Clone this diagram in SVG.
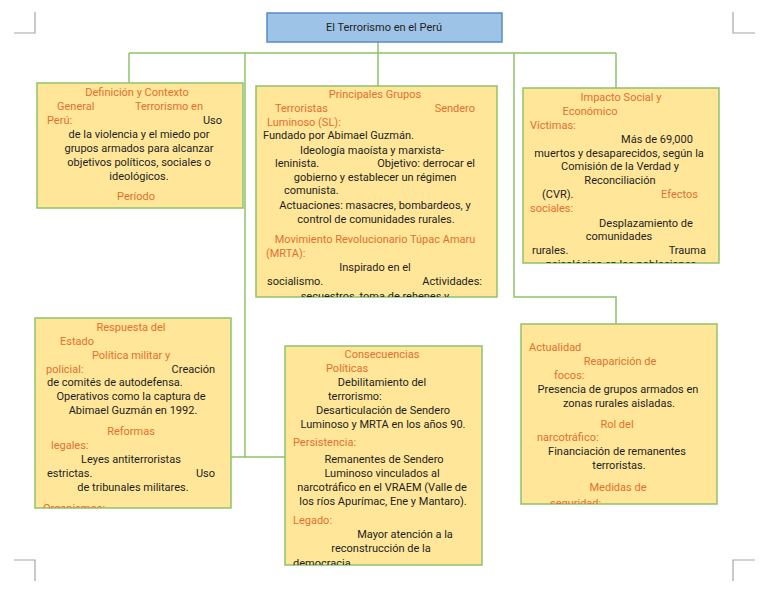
<svg xmlns="http://www.w3.org/2000/svg" width="768" height="594" viewBox="0 0 768 594">
<style>
.box{fill:#FFE699;stroke:#8EC36A;stroke-width:1.5}
.title{fill:#9DC3E6;stroke:#5A8BC2;stroke-width:1.5}
.conn{fill:none;stroke:#8EC36A;stroke-width:1.5}
.crop{fill:none;stroke:#A6A6A6;stroke-width:1.2}
text{font-family:Roboto,"Liberation Sans",sans-serif;font-size:11px;fill:#1E1E1E}
.h{fill:#E2702F}
.m{text-anchor:middle}
.e{text-anchor:end}
</style>
<defs>
<clipPath id="c1"><rect x="37" y="83" width="206" height="125"/></clipPath>
<clipPath id="c2"><rect x="256" y="86" width="241" height="211"/></clipPath>
<clipPath id="c3"><rect x="523" y="88" width="196" height="175"/></clipPath>
<clipPath id="c4"><rect x="35" y="318" width="196" height="190"/></clipPath>
<clipPath id="c5"><rect x="285" y="346" width="197" height="219"/></clipPath>
<clipPath id="c6"><rect x="521" y="324" width="196" height="180"/></clipPath>
</defs>
<rect width="768" height="594" fill="#FFFFFF"/>
<g id="crop-marks">
<path class="crop" d="M14 33H35V12M733 12V33H755M14 560H35V581M733 581V560H755"/>
</g>
<g id="connectors">
<path class="conn" d="M378 42V86M129 53H616M129 53V83M616 53V88M245 53V457M231 457H285M514 53V297H616V324"/>
</g>
<g id="title">
<rect class="title" x="267" y="13" width="235" height="29"/>
<text class="m" x="384" y="31">El Terrorismo en el Perú</text>
</g>
<g id="definicion">
<rect class="box" x="37" y="83" width="206" height="125"/>
<g clip-path="url(#c1)">
<text class="h m" x="137" y="96">Definición y Contexto</text>
<text class="h" x="57" y="110">General</text>
<text class="h e" x="203" y="110">Terrorismo en</text>
<text class="h" x="47" y="124">Perú:</text>
<text class="e" x="222" y="124">Uso</text>
<text class="m" x="139" y="138">de la violencia y el miedo por</text>
<text class="m" x="139" y="152">grupos armados para alcanzar</text>
<text class="m" x="139" y="166">objetivos políticos, sociales o</text>
<text class="m" x="139" y="180">ideológicos.</text>
<text class="h m" x="136" y="200">Período</text>
</g>
</g>
<g id="principales">
<rect class="box" x="256" y="86" width="241" height="211"/>
<g clip-path="url(#c2)">
<text class="h m" x="375" y="98">Principales Grupos</text>
<text class="h" x="275" y="112">Terroristas</text>
<text class="h e" x="475" y="112">Sendero</text>
<text class="h" x="267" y="126">Luminoso (SL):</text>
<text x="263" y="139">Fundado por Abimael Guzmán.</text>
<text class="m" x="372" y="154">Ideología maoísta y marxista-</text>
<text x="275" y="167">leninista.</text>
<text class="e" x="475" y="167">Objetivo: derrocar el</text>
<text class="m" x="375" y="181">gobierno y establecer un régimen</text>
<text x="284" y="194">comunista.</text>
<text class="m" x="375" y="209">Actuaciones: masacres, bombardeos, y</text>
<text class="m" x="376" y="223">control de comunidades rurales.</text>
<text class="h m" x="375" y="243">Movimiento Revolucionario Túpac Amaru</text>
<text class="h" x="266" y="257">(MRTA):</text>
<text class="m" x="375" y="271">Inspirado en el</text>
<text x="267" y="285">socialismo.</text>
<text class="e" x="482" y="285">Actividades:</text>
<text class="m" x="375" y="300">secuestros, toma de rehenes y</text>
</g>
</g>
<g id="impacto">
<rect class="box" x="523" y="88" width="196" height="175"/>
<g clip-path="url(#c3)">
<text class="h m" x="621" y="101">Impacto Social y</text>
<text class="h m" x="590" y="115">Económico</text>
<text class="h" x="530" y="129">Víctimas:</text>
<text class="m" x="657" y="143">Más de 69,000</text>
<text class="m" x="619" y="157">muertos y desaparecidos, según la</text>
<text class="m" x="620" y="170">Comisión de la Verdad y</text>
<text class="m" x="620" y="184">Reconciliación</text>
<text x="542" y="198">(CVR).</text>
<text class="h e" x="698" y="198">Efectos</text>
<text class="h" x="530" y="212">sociales:</text>
<text class="m" x="646" y="227">Desplazamiento de</text>
<text class="m" x="619" y="240">comunidades</text>
<text x="532" y="254">rurales.</text>
<text class="e" x="706" y="254">Trauma</text>
<text class="m" x="621" y="268">psicológico en las poblaciones</text>
</g>
</g>
<g id="respuesta">
<rect class="box" x="35" y="318" width="196" height="190"/>
<g clip-path="url(#c4)">
<text class="h m" x="131" y="331">Respuesta del</text>
<text class="h" x="60" y="345">Estado</text>
<text class="h m" x="131" y="359">Política militar y</text>
<text class="h" x="46" y="373">policial:</text>
<text class="e" x="215" y="373">Creación</text>
<text x="47" y="386">de comités de autodefensa.</text>
<text class="m" x="131" y="400">Operativos como la captura de</text>
<text class="m" x="133" y="414">Abimael Guzmán en 1992.</text>
<text class="h m" x="131" y="435">Reformas</text>
<text class="h" x="51" y="449">legales:</text>
<text class="m" x="131" y="463">Leyes antiterroristas</text>
<text x="47" y="477">estrictas.</text>
<text class="e" x="215" y="477">Uso</text>
<text class="m" x="133" y="491">de tribunales militares.</text>
<text class="h" x="43" y="512">Organismos:</text>
</g>
</g>
<g id="consecuencias">
<rect class="box" x="285" y="346" width="197" height="219"/>
<g clip-path="url(#c5)">
<text class="h m" x="382" y="358">Consecuencias</text>
<text class="h" x="326" y="372">Políticas</text>
<text class="m" x="382" y="386">Debilitamiento del</text>
<text x="328" y="400">terrorismo:</text>
<text class="m" x="383" y="414">Desarticulación de Sendero</text>
<text class="m" x="383" y="428">Luminoso y MRTA en los años 90.</text>
<text class="h" x="293" y="446">Persistencia:</text>
<text class="m" x="384" y="463">Remanentes de Sendero</text>
<text class="m" x="382" y="477">Luminoso vinculados al</text>
<text class="m" x="382" y="491">narcotráfico en el VRAEM (Valle de</text>
<text class="m" x="383" y="505">los ríos Apurímac, Ene y Mantaro).</text>
<text class="h" x="293" y="524">Legado:</text>
<text class="m" x="405" y="538">Mayor atención a la</text>
<text class="m" x="381" y="552">reconstrucción de la</text>
<text x="293" y="567">democracia.</text>
</g>
</g>
<g id="actualidad">
<rect class="box" x="521" y="324" width="196" height="180"/>
<g clip-path="url(#c6)">
<text class="h" x="529" y="351">Actualidad</text>
<text class="h m" x="620" y="365">Reaparición de</text>
<text class="h" x="554" y="379">focos:</text>
<text class="m" x="618" y="393">Presencia de grupos armados en</text>
<text class="m" x="619" y="407">zonas rurales aisladas.</text>
<text class="h m" x="617" y="428">Rol del</text>
<text class="h" x="537" y="441">narcotráfico:</text>
<text class="m" x="617" y="455">Financiación de remanentes</text>
<text class="m" x="619" y="469">terroristas.</text>
<text class="h m" x="618" y="491">Medidas de</text>
<text class="h" x="550" y="507">seguridad:</text>
</g>
</g>
</svg>
